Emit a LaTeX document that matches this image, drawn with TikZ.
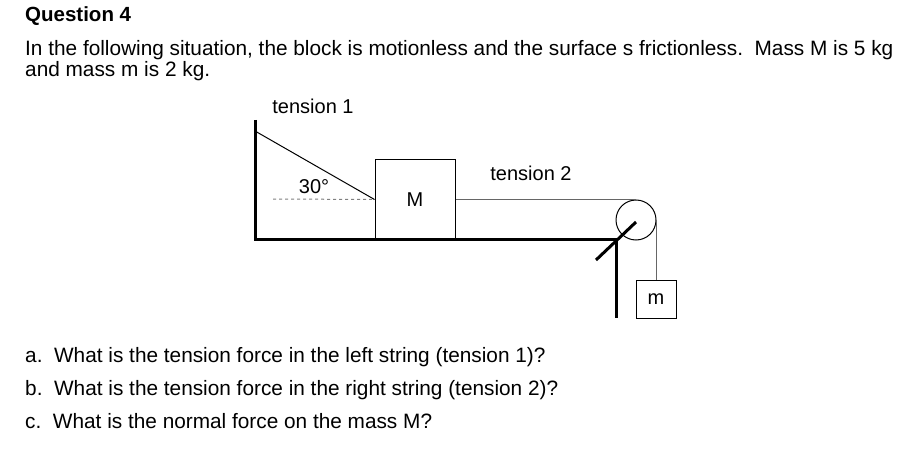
\documentclass[tikz,border=0pt]{standalone}
\usepackage{fontspec}
\setmainfont{Liberation Sans}
\begin{document}
\begin{tikzpicture}[x=1pt,y=-1pt,
  txt/.style={anchor=base west,inner sep=0pt,font=\fontsize{20.8}{24}\selectfont},
  lab/.style={inner sep=0pt,font=\fontsize{20}{24}\selectfont},
  thick/.style={line width=3pt},
  thin/.style={line width=1pt}]
\useasboundingbox[fill=white] (0,0) rectangle (908,476);
\node[txt,font=\bfseries\fontsize{20.5}{24}\selectfont] (q) at (25,22) {Question 4};
\node[txt] (l1) at (25,56) {In the following situation, the block is motionless and the surface s frictionless.\ \ Mass M is 5 kg};
\node[txt] (l2) at (25,77) {and mass m is 2 kg.};
\node[lab] (t1) at (313,106) {tension 1};
\node[lab] (t2) at (531,173) {tension 2};
\node[lab] (a) at (314,187) {30°};
\node[draw,thin,minimum width=80pt,minimum height=79pt,inner sep=0pt,font=\fontsize{20}{24}\selectfont] (M) at (415,199.5) {M};
\node[draw,thin,circle,minimum size=40pt,inner sep=0pt] (p) at (636,220) {};
\node[draw,thin,minimum width=40pt,minimum height=38pt,inner sep=0pt,font=\fontsize{20}{24}\selectfont] (m) at (656,299) {m};
\coordinate (wt) at (255,120);
\coordinate (wb) at (255,239);
\coordinate (fe) at (616,239);
\coordinate (pb) at (616,318);
\coordinate (s1) at (255,131);
\coordinate (d1) at (273,199);
\draw[thick] (wt) -- (wb) -- (fe) -- (pb);
\draw[thick] (596,260) -- (636,222);
\draw[thin] (s1) -- (M.west);
\draw[thin,dashed,gray] (d1) -- (M.west);
\draw[thin,gray!80!black] (M.east) -- (p.north);
\draw[thin,gray!80!black] (p.east) -- (m.north -| p.east);
\node[txt] (qa) at (25,362) {a.\ \ What is the tension force in the left string (tension 1)?};
\node[txt] (qb) at (25,395) {b.\ \ What is the tension force in the right string (tension 2)?};
\node[txt] (qc) at (25,428) {c.\ \ What is the normal force on the mass M?};
\end{tikzpicture}
\end{document}
